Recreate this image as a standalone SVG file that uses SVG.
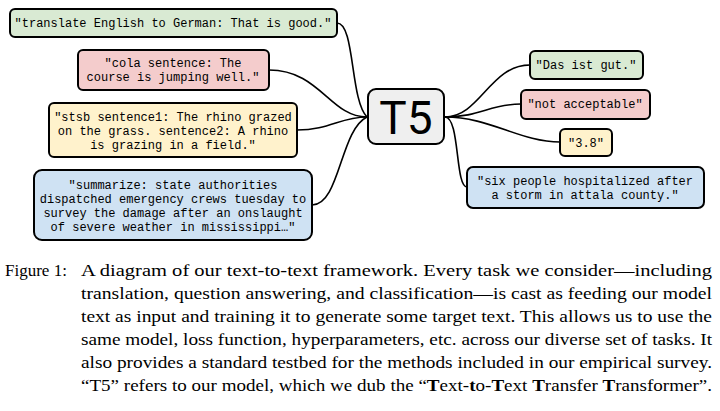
<svg xmlns="http://www.w3.org/2000/svg" width="720" height="411" viewBox="0 0 720 411">
<style>
.b{stroke:#000;stroke-width:2}
.m{font-family:"Liberation Mono","DejaVu Sans Mono",monospace;font-size:12px;text-anchor:middle;fill:#000}
.c{fill:none;stroke:#000;stroke-width:1.6}
.g{fill:#d9ead3}.p{fill:#f4cccc}.y{fill:#fff2cc}.l{fill:#cfe2f3}
.cap{font-family:"Liberation Serif","DejaVu Serif",serif;font-size:17px;fill:#000}
</style>
<rect width="720" height="411" fill="#fff"/>
<g id="connectors">
<path class="c" d="M337,23 C355,23 350,100 367,117"/>
<path class="c" d="M269,70 C320,70 330,117 367,117"/>
<path class="c" d="M297,130 C330,130 340,117 367,117"/>
<path class="c" d="M312,205 C340,205 340,130 367,117"/>
<path class="c" d="M445,117 C480,117 490,65 530,65"/>
<path class="c" d="M445,117 C480,117 490,104 521,104"/>
<path class="c" d="M445,117 C490,117 520,142 560,142"/>
<path class="c" d="M445,117 C460,117 455,187 467,187"/>
</g>
<g id="t5"><rect class="b" x="368" y="89" width="76" height="55" rx="8" fill="#efefef"/>
<text x="406" y="134" font-family="Roboto,'Liberation Sans',sans-serif" font-size="46" text-anchor="middle">T5</text></g>
<g id="in1"><rect class="b g" x="10" y="9" width="327" height="28" rx="5"/><text class="m" x="173" y="27">"translate English to German: That is good."</text></g>
<g id="in2"><rect class="b p" x="78" y="50" width="191" height="40" rx="5"/><text class="m" x="173" y="67">"cola sentence: The</text><text class="m" x="173" y="81">course is jumping well."</text></g>
<g id="in3"><rect class="b y" x="49" y="103" width="248" height="54" rx="5"/><text class="m" x="173" y="121">"stsb sentence1: The rhino grazed</text><text class="m" x="173" y="135">on the grass. sentence2: A rhino</text><text class="m" x="173" y="149">is grazing in a field."</text></g>
<g id="in4"><rect class="b l" x="34" y="170" width="278" height="70" rx="8"/><text class="m" x="173" y="189">"summarize: state authorities</text><text class="m" x="173" y="203">dispatched emergency crews tuesday to</text><text class="m" x="173" y="217">survey the damage after an onslaught</text><text class="m" x="173" y="231">of severe weather in mississippi…"</text></g>
<g id="out1"><rect class="b g" x="530" y="51" width="113" height="28" rx="5"/><text class="m" x="586" y="69">"Das ist gut."</text></g>
<g id="out2"><rect class="b p" x="521" y="90" width="129" height="29" rx="5"/><text class="m" x="585" y="108">"not acceptable"</text></g>
<g id="out3"><rect class="b y" x="560" y="129" width="52" height="27" rx="5"/><text class="m" x="586" y="147">"3.8"</text></g>
<g id="out4"><rect class="b l" x="467" y="167" width="237" height="41" rx="6"/><text class="m" x="585" y="185">"six people hospitalized after</text><text class="m" x="585" y="199">a storm in attala county."</text></g>
<g id="caption">
<text class="cap" x="5" y="276">Figure 1:</text>
<text class="cap" x="81" y="276" textLength="631" lengthAdjust="spacingAndGlyphs">A diagram of our text-to-text framework.  Every task we consider—including</text>
<text class="cap" x="81" y="299" textLength="631" lengthAdjust="spacingAndGlyphs">translation, question answering, and classification—is cast as feeding our model</text>
<text class="cap" x="81" y="322" textLength="631" lengthAdjust="spacingAndGlyphs">text as input and training it to generate some target text.  This allows us to use the</text>
<text class="cap" x="81" y="345" textLength="631" lengthAdjust="spacingAndGlyphs">same model, loss function, hyperparameters, etc. across our diverse set of tasks.  It</text>
<text class="cap" x="81" y="368" textLength="631" lengthAdjust="spacingAndGlyphs">also provides a standard testbed for the methods included in our empirical survey.</text>
<text class="cap" x="81" y="391" textLength="631" lengthAdjust="spacingAndGlyphs">“T5” refers to our model, which we dub the “<tspan font-weight="bold">T</tspan>ext-<tspan font-weight="bold">t</tspan>o-<tspan font-weight="bold">T</tspan>ext <tspan font-weight="bold">T</tspan>ransfer <tspan font-weight="bold">T</tspan>ransformer”.</text>
</g>
</svg>
